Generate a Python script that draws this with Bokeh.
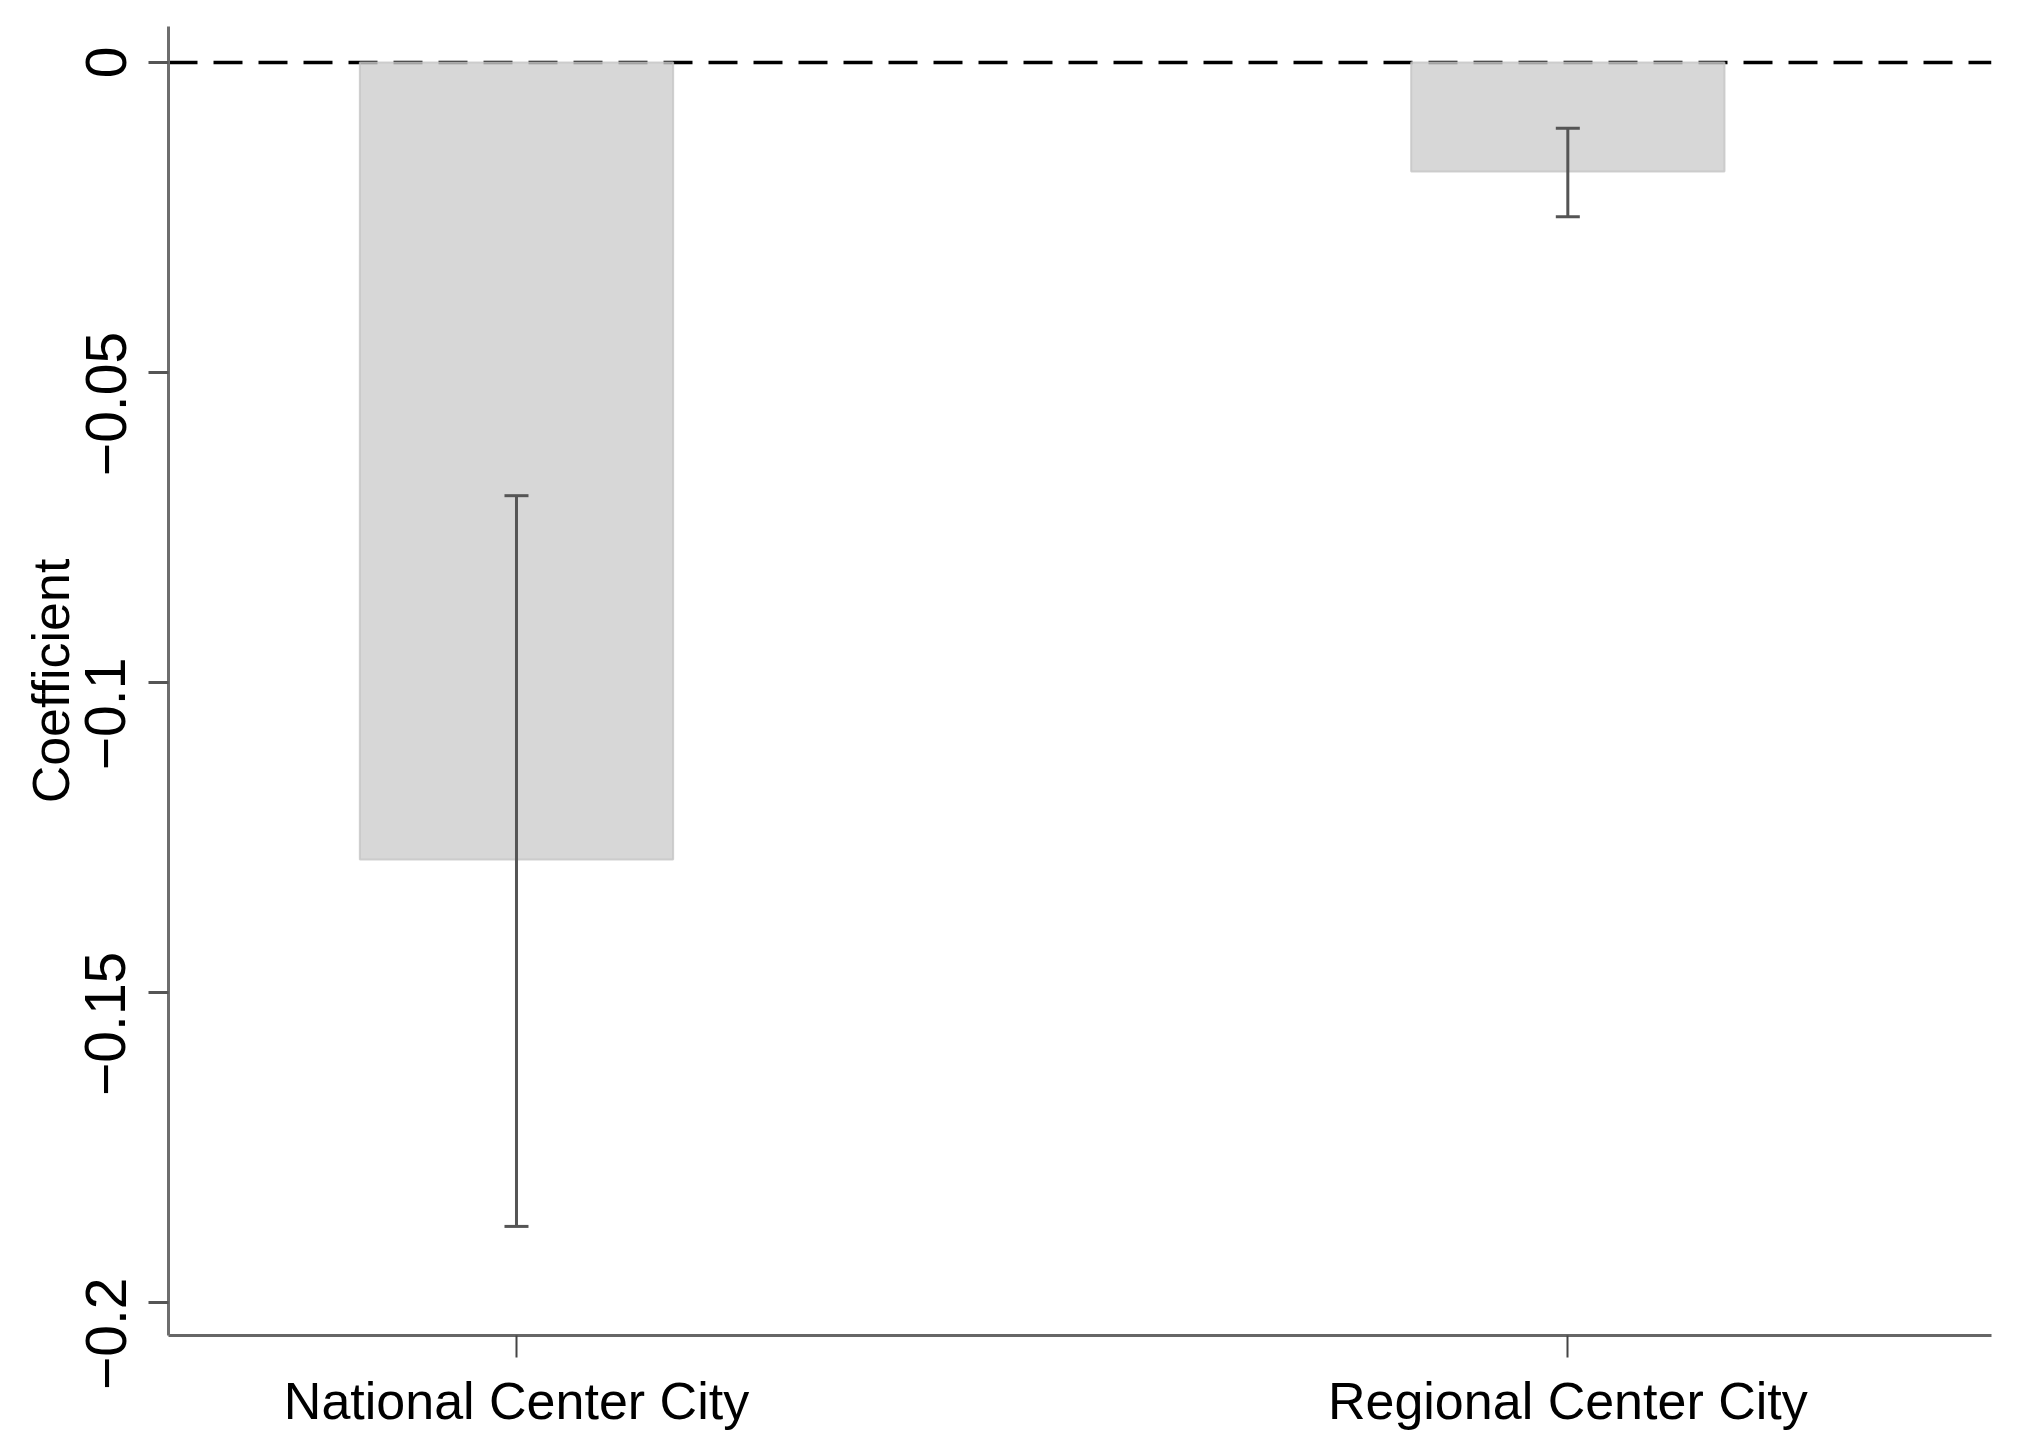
from bokeh.plotting import figure
from bokeh.models import (ColumnDataSource, Whisker, TeeHead, Span, FixedTicker,
                          CustomJSTickFormatter, Range1d)
from bokeh.embed import file_html
from bokeh.resources import INLINE

# Data
categories = ["National Center City", "Regional Center City"]
positions = [1, 2]
coef = [-0.1286, -0.0176]
ci_upper = [-0.0699, -0.0106]
ci_lower = [-0.1878, -0.0249]
y_ticks = [0, -0.05, -0.1, -0.15, -0.2]

FONT = "Liberation Sans"

src = ColumnDataSource(dict(x=positions, top=[0, 0], bottom=coef,
                            upper=ci_upper, lower=ci_lower))

p = figure(width=2003, height=1439, output_backend="svg", toolbar_location=None,
           x_range=Range1d(0.669, 2.403), y_range=Range1d(-0.2054, 0.0058),
           min_border_left=168, min_border_right=12, min_border_top=26,
           min_border_bottom=104)
p.outline_line_color = None
p.xgrid.visible = False
p.ygrid.visible = False
p.background_fill_color = "white"
p.border_fill_color = "white"

# zero reference line (under bars)
zero = Span(location=0, dimension="width", line_color="black", line_width=3.5,
            line_dash="29 16", level="underlay")
p.add_layout(zero)

p.vbar(x="x", top="top", bottom="bottom", width=0.298, source=src,
       fill_color="#c6c6c6", fill_alpha=0.7, line_color="#c4c4c4", line_alpha=0.8,
       line_width=2)

wh = Whisker(source=src, base="x", upper="upper", lower="lower", dimension="height",
             line_color="#555555", line_width=3, level="annotation",
             upper_head=TeeHead(size=24, line_color="#555555", line_width=3),
             lower_head=TeeHead(size=24, line_color="#555555", line_width=3))
p.add_layout(wh)

# x axis
xa = p.xaxis[0]
xa.ticker = FixedTicker(ticks=positions)
xa.major_label_overrides = {positions[i]: categories[i] for i in range(len(positions))}
xa.major_label_text_font = FONT
xa.major_label_text_font_size = "52px"
xa.major_label_text_color = "black"
xa.major_label_standoff = 14
xa.axis_line_color = "#666666"
xa.axis_line_width = 3
xa.major_tick_line_color = "#444444"
xa.major_tick_line_width = 2
xa.major_tick_out = 22
xa.major_tick_in = 0
xa.minor_tick_line_color = None

# y axis
ya = p.yaxis[0]
ya.ticker = FixedTicker(ticks=y_ticks)
ya.formatter = CustomJSTickFormatter(code="""
    if (tick == 0) { return '0'; }
    return (tick < 0 ? '\\u2212' : '') + Math.abs(tick).toString() + '\\u00a0\\u00a0\\u00a0\\u00a0';
""")
ya.major_label_orientation = "parallel"
ya.major_label_text_font = FONT
ya.major_label_text_font_size = "57px"
ya.major_label_text_color = "black"
ya.major_label_standoff = 11
ya.axis_label = "Coefficient"
ya.axis_label_text_font = FONT
ya.axis_label_text_font_size = "52px"
ya.axis_label_text_font_style = "normal"
ya.axis_label_text_color = "black"
ya.axis_label_standoff = -9
ya.axis_line_color = "#6e6e6e"
ya.axis_line_width = 3
ya.major_tick_line_color = "#555555"
ya.major_tick_line_width = 3
ya.major_tick_out = 20
ya.major_tick_in = 0
ya.minor_tick_line_color = None

open("out.html", "w").write(file_html(p, INLINE))
